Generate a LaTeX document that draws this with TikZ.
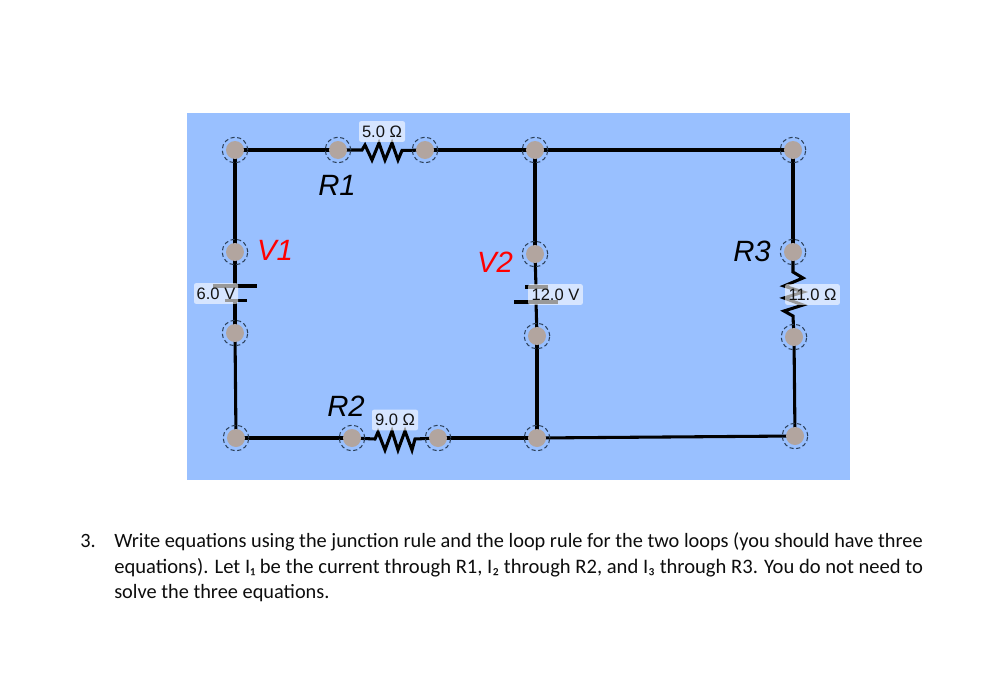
\documentclass[tikz,border=0pt]{standalone}
\usepackage{fontspec}
\setmainfont{Liberation Sans}
\newfontfamily\bodyfont{Carlito}
\definecolor{panel}{HTML}{99C0FF}
\definecolor{pad}{HTML}{B2A59F}
\definecolor{ring}{HTML}{2B3F58}
\pgfdeclarelayer{bg}
\pgfdeclarelayer{wires}
\pgfsetlayers{bg,wires,main}
\tikzset{
  x=0.75pt,y=-0.75pt,
  junction/.style={circle,fill=pad,minimum size=13.5pt,inner sep=0pt,
    append after command={\pgfextra{\draw[ring,line width=0.75pt,dash pattern=on 3.1pt off 2pt] (\tikzlastnode.center) circle[radius=9.6pt];}}},
  wire/.style={line width=2.3pt,black,line join=miter},
  part/.style={line width=2.3pt,black,line join=miter},
  value/.style={fill=white,fill opacity=0.6,text opacity=1,rounded corners=1.5pt,font=\fontsize{12.4pt}{14pt}\selectfont,inner sep=0pt,text=black!92},
  tag/.style={font=\fontsize{22pt}{24pt}\selectfont\itshape,inner sep=0pt},
  body/.style={font=\bodyfont\fontsize{15.25pt}{17pt}\selectfont,anchor=base west,inner sep=0pt,text=black!95}
}
\begin{document}
\begin{tikzpicture}
\useasboundingbox (0,0) rectangle (1008,675);
\begin{pgfonlayer}{bg}
\fill[panel] (187,113) rectangle (850,480);
\end{pgfonlayer}
% junctions
\node[junction] (tl) at (235,150) {};
\node[junction] (ra) at (338,150) {};
\node[junction] (rb) at (425,150) {};
\node[junction] (tm) at (535,150) {};
\node[junction] (tr) at (793,150) {};
\node[junction] (va) at (235,252) {};
\node[junction] (vb) at (235,333) {};
\node[junction] (bl) at (236,438) {};
\node[junction] (sa) at (352,438) {};
\node[junction] (sb) at (438,438) {};
\node[junction] (bm) at (537,438) {};
\node[junction] (br) at (795,436) {};
\node[junction] (wa) at (535,254) {};
\node[junction] (wb) at (537,336) {};
\node[junction] (ua) at (793,252) {};
\node[junction] (ub) at (794,337) {};
% battery terminals and wire ends
\coordinate (vp) at (235,286);
\coordinate (vn) at (235,300);
\coordinate (wp) at (536,287);
\coordinate (wn) at (536,302);
\begin{pgfonlayer}{wires}
\draw[wire] (tl.center) -- (ra.center);
\draw[wire] (rb.center) -- (tm.center);
\draw[wire] (tm.center) -- (tr.center);
\draw[wire] (tl.center) -- (va.center);
\draw[wire] (va.center) -- (vp);
\draw[wire] (vn) -- (vb.center);
\draw[wire] (vb.center) -- (bl.center);
\draw[wire] (bl.center) -- (sa.center);
\draw[wire] (sb.center) -- (bm.center);
\draw[wire] (bm.center) -- (br.center);
\draw[wire] (tm.center) -- (wa.center);
\draw[wire] (wa.center) -- (wp);
\draw[wire] (wn) -- (wb.center);
\draw[wire] (wb.center) -- (bm.center);
\draw[wire] (tr.center) -- (ua.center);
\draw[wire] (ub.center) -- (br.center);
% resistors
\draw[part] (ra.center) -- (362,150) -- (365,145) -- (372,160) -- (379,143) -- (385,160) -- (392,143) -- (398,160) -- (402,150.5) -- (rb.center);
\draw[part] (sa.center) -- (375,439) -- (378,432) -- (385,450) -- (392,431) -- (398,450) -- (405,431) -- (412,450) -- (415,439) -- (sb.center);
\draw[part] (ua.center) -- (793,272) -- (803,278) -- (784,286) -- (803,292) -- (784,298) -- (803,305) -- (784,311) -- (793,316) -- (ub.center);
% battery plates
\draw[part] (213,286) -- (257,286);
\draw[part] (225,300.5) -- (247,300.5);
\draw[part] (525,287) -- (548,287);
\draw[part] (514,302) -- (558,302);
\end{pgfonlayer}
% values
\node[value,minimum width=34.5pt,minimum height=15.5pt] (l1) at (382,131.5) {5.0 Ω};
\node[value,minimum width=34.5pt,minimum height=15.5pt] (l2) at (395,420) {9.0 Ω};
\node[value,minimum width=33pt,minimum height=15.5pt] (l3) at (216,293.5) {6.0 V};
\node[value,minimum width=41pt,minimum height=15.5pt] (l4) at (555.5,294.5) {12.0 V};
\node[value,minimum width=41pt,minimum height=15.5pt] (l5) at (812.5,294.5) {11.0 Ω};
% names
\node[tag] (n1) at (337,185) {R1};
\node[tag] (n2) at (346,406) {R2};
\node[tag] (n3) at (752,251) {R3};
\node[tag,text=red] (n4) at (275,250) {V1};
\node[tag,text=red] (n5) at (495,262) {V2};
% question
\node[body] (q0) at (80,547) {3.};
\node[body] (q1) at (114,547) {Write equations using the junction rule and the loop rule for the two loops (you should have three};
\node[body,font=\bodyfont\fontsize{15.45pt}{17pt}\selectfont] (q2) at (114,573) {equations). Let I₁ be the current through R1, I₂ through R2, and I₃ through R3. You do not need to};
\node[body] (q3) at (114,598) {solve the three equations.};
\end{tikzpicture}
\end{document}
